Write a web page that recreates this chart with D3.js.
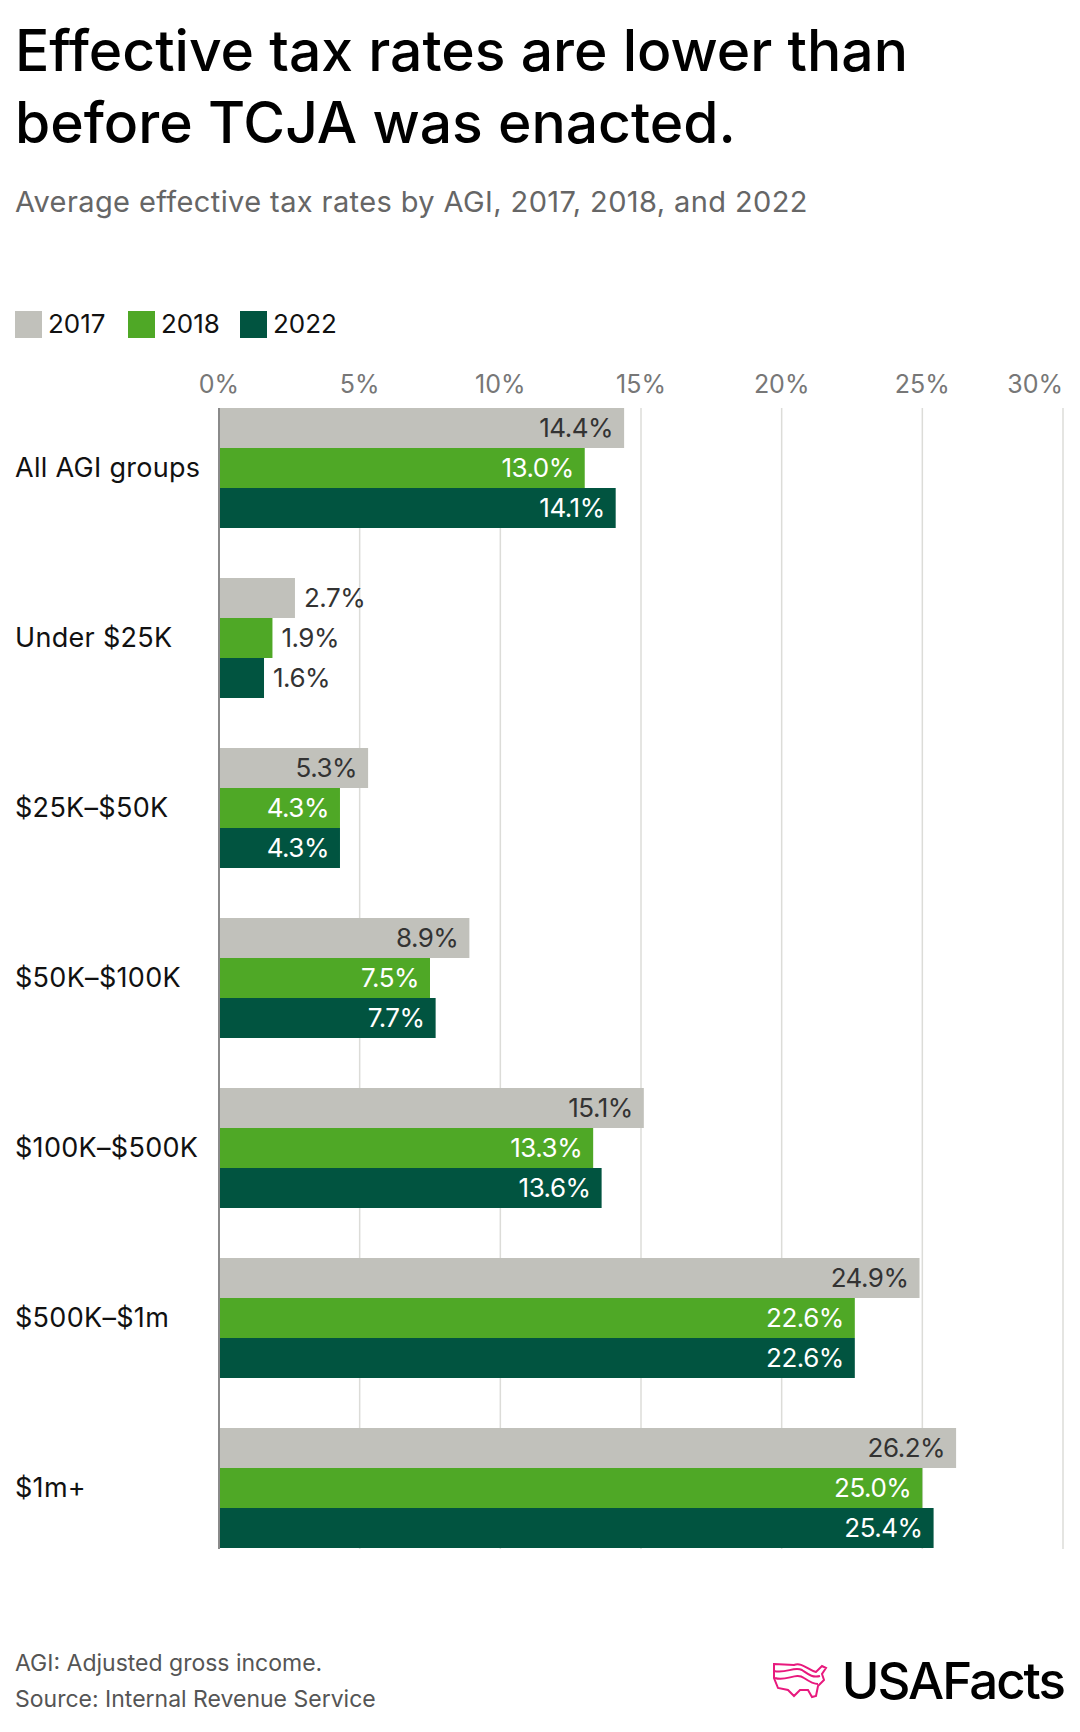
<!DOCTYPE html>
<meta charset="utf-8">
<script src="https://d3js.org/d3.v7.min.js"></script>
<style>
  body { margin: 0; background: #fff; }
  text { font-family: Inter, "Noto Sans", sans-serif; }
</style>
<div id="chart"></div>
<script>

var categories = ["All AGI groups", "Under $25K", "$25K\u2013$50K", "$50K\u2013$100K", "$100K\u2013$500K", "$500K\u2013$1m", "$1m+"];
var years = ["2017", "2018", "2022"];
var rates2017 = [14.4, 2.7, 5.3, 8.9, 15.1, 24.9, 26.2];
var rates2018 = [13.0, 1.9, 4.3, 7.5, 13.3, 22.6, 25.0];
var rates2022 = [14.1, 1.6, 4.3, 7.7, 13.6, 22.6, 25.4];
var ticks = [0, 5, 10, 15, 20, 25, 30];

var width = 1080, height = 1732,
  colors = ["#c1c1bb", "#4fa826", "#015440"],
  labelColors = ["#333333", "#ffffff", "#ffffff"];

var series = [rates2017, rates2018, rates2022];

var svg = d3.select("#chart")
  .append("svg")
    .attr("width", width)
    .attr("height", height);

// titles
svg.append("text").attr("x", 15).attr("y", 71)
  .style("font-size", "57px").style("font-weight", 500).style("letter-spacing", "0px")
  .text("Effective tax rates are lower than");
svg.append("text").attr("x", 15).attr("y", 143)
  .style("font-size", "57px").style("font-weight", 500).style("letter-spacing", "0px")
  .text("before TCJA was enacted.");
svg.append("text").attr("x", 15).attr("y", 212)
  .style("font-size", "29px").style("fill", "#666").style("letter-spacing", "0.4px")
  .text("Average effective tax rates by AGI, 2017, 2018, and 2022");

// legend
var legendX = [15, 128, 240];
var legend = svg.selectAll("g.leg")
  .data(years)
  .enter()
  .append("g")
    .attr("transform", function(d, i){ return "translate(" + legendX[i] + ",311)"; });
legend.append("rect").attr("width", 27).attr("height", 27)
  .style("fill", function(d, i){ return colors[i]; });
legend.append("text").attr("x", 33).attr("y", 22)
  .style("font-size", "26px").style("fill", "#111")
  .text(function(d){ return d; });

// scales
var x = d3.scaleLinear().domain([0, 30]).range([219, 1063]);
var y = d3.scaleBand().domain(categories).range([408, 1548]).paddingInner(50 / 170).paddingOuter(0);
var yInner = d3.scaleBand().domain(years).range([0, y.bandwidth()]);

// grid
svg.selectAll("line.grid")
  .data(ticks.slice(1))
  .enter()
  .append("line")
    .attr("x1", function(d){ return x(d); })
    .attr("x2", function(d){ return x(d); })
    .attr("y1", 408).attr("y2", 1549)
    .style("stroke", "#dcdcd8").style("stroke-width", 1.5);

svg.selectAll("text.tick")
  .data(ticks)
  .enter()
  .append("text")
    .attr("x", function(d){ return x(d); })
    .attr("y", 393)
    .style("text-anchor", function(d, i){ return i == ticks.length - 1 ? "end" : "middle"; })
    .style("font-size", "25px").style("fill", "#777")
    .text(function(d){ return d + "%"; });

// bars
var groups = svg.selectAll("g.grp")
  .data(categories)
  .enter()
  .append("g")
    .attr("transform", function(d){ return "translate(0," + y(d) + ")"; });

groups.append("text")
  .attr("x", 15)
  .attr("y", y.bandwidth() / 2 + 9)
  .style("font-size", "27px").style("fill", "#111").style("letter-spacing", "0.3px")
  .text(function(d){ return d; });

years.forEach(function(yr, s) {
  groups.append("rect")
    .attr("x", x(0))
    .attr("y", yInner(yr))
    .attr("width", function(d, i){ return x(series[s][i]) - x(0); })
    .attr("height", yInner.bandwidth())
    .style("fill", colors[s]);

  groups.append("text")
    .attr("x", function(d, i){
      var v = series[s][i];
      return x(v) - x(0) > 100 ? x(v) - 11 : x(v) + 9;
    })
    .attr("y", yInner(yr) + yInner.bandwidth() / 2 + 9)
    .style("text-anchor", function(d, i){ return x(series[s][i]) - x(0) > 100 ? "end" : "start"; })
    .style("fill", function(d, i){ return x(series[s][i]) - x(0) > 100 ? labelColors[s] : "#333"; })
    .style("font-size", "26px").style("letter-spacing", "-0.5px")
    .text(function(d, i){ return series[s][i].toFixed(1) + "%"; });
});

// axis line
svg.append("line")
  .attr("x1", x(0)).attr("x2", x(0))
  .attr("y1", 408).attr("y2", 1549)
  .style("stroke", "#8a8a8a").style("stroke-width", 2);

// footer
svg.append("text").attr("x", 15).attr("y", 1671)
  .style("font-size", "23px").style("fill", "#555")
  .text("AGI: Adjusted gross income.");
svg.append("text").attr("x", 15).attr("y", 1707)
  .style("font-size", "23px").style("fill", "#555")
  .text("Source: Internal Revenue Service");

// logo
var logo = svg.append("g").attr("transform", "translate(772,1660)");
logo.append("path")
  .attr("d", "M2,4 L22,5 C30,2 36,10 44,12 L50,6 L54,8 L50,14 L52,20 L46,26 L44,36 L40,37 L36,30 L28,30 L22,36 L16,30 L6,28 L2,18 Z")
  .style("fill", "none").style("stroke", "#e8197d").style("stroke-width", 2);
logo.append("path")
  .attr("d", "M2,11 C14,14 22,6 30,10 C36,14 40,18 48,16 M3,18 C14,22 24,12 32,18 C38,22 42,24 46,24")
  .style("fill", "none").style("stroke", "#e8197d").style("stroke-width", 2);
svg.append("text").attr("x", 1064).attr("y", 1699)
  .style("text-anchor", "end")
  .style("font-size", "51px").style("font-weight", 500).style("letter-spacing", "-2px").style("fill", "#000")
  .text("USAFacts");

</script>
